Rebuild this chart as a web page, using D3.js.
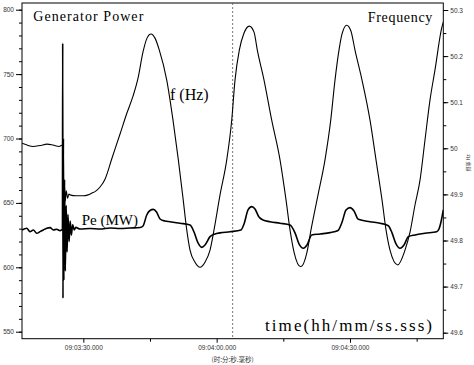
<!DOCTYPE html>
<html>
<head>
<meta charset="utf-8">
<script src="https://cdn.jsdelivr.net/npm/d3@7"></script>
<style>
  body { margin: 0; background: #fff; }
  .tick text { font-family: "Liberation Sans", Arial, sans-serif; font-size: 6.5px; fill: #333; }
  .label { font-family: "Liberation Serif", serif; fill: #000; }
</style>
</head>
<body>
<div class="graphContainer"></div>
<script>
// seconds after 09:03:00
var freqSec = [16.2, 17.33, 18.68, 20.26, 21.83, 23.18, 24.53, 25.3, 25.42, 25.55, 25.72, 25.92, 26.15, 26.45, 26.75,
  27.01, 28.36, 29.93, 31.06, 31.96, 32.63, 33.76, 34.88, 36.46, 38.26, 39.83, 41.18, 42.31, 43.43,
  44.33, 45.23, 46.13, 47.1, 48.77, 50.18, 51.38, 52.43, 53.27, 54.01, 55.13, 56.26, 57.38, 58.51, 59.41, 60.76,
  62.27, 63.39, 64.13, 65.1, 66.16, 67.35, 68.41, 69.15, 70.66, 72.39, 74.26, 75.61, 76.51, 77.41, 78.92, 80.33,
  81.23, 82.81, 84.38, 85.67, 86.63, 87.53, 88.21, 89.27, 90.23, 91.13, 92.71, 94.51, 95.86, 97.21, 98.11, 99.01,
  100.74, 102.38, 103.51, 104.63, 105.76, 106.88, 108.01, 109.13, 110.64, 111.0];
var freqHz = [50.011, 50.007, 50.004, 50.006, 50.009, 50.007, 50.004, 50.007, 49.95, 49.88, 49.925, 49.885, 49.908, 49.892, 49.901,
  49.899, 49.897, 49.897, 49.899, 49.903, 49.906, 49.916, 49.933, 49.979, 50.031, 50.077, 50.113, 50.152, 50.209,
  50.239, 50.248, 50.239, 50.213, 50.148, 50.061, 49.975, 49.892, 49.823, 49.779, 49.753, 49.742, 49.753, 49.779, 49.823, 49.899,
  49.975, 50.061, 50.148, 50.213, 50.25, 50.265, 50.252, 50.213, 50.148, 50.061, 49.975, 49.888, 49.823, 49.775, 49.743, 49.775,
  49.823, 49.899, 49.975, 50.061, 50.148, 50.213, 50.248, 50.267, 50.254, 50.213, 50.148, 50.061, 49.975, 49.888, 49.823, 49.779,
  49.747, 49.779, 49.818, 49.877, 49.931, 50.018, 50.105, 50.17, 50.261, 50.274];

var peSec = [16.2, 17.26, 18.0, 18.75, 19.52, 20.26, 21.0, 21.77, 22.51, 23.25, 24.0, 24.76, 25.3, 25.36, 25.42, 25.52,
  25.62, 25.78, 25.95, 26.15, 26.35, 26.55, 26.8, 27.05, 27.3, 27.6, 27.95, 28.3, 29.26, 31.51, 33.76, 36.01, 38.26,
  40.51, 42.76, 43.43, 44.27, 45.01, 45.76, 46.47, 47.26, 48.38, 49.51, 51.76, 54.01, 54.91, 55.81, 56.64, 57.38,
  58.51, 59.63, 60.76, 63.01, 65.48, 66.16, 67.06, 67.89, 68.63, 69.53, 70.43, 72.01, 74.26, 76.51, 77.63, 78.53,
  79.5, 80.33, 81.39, 83.26, 85.51, 87.31, 88.21, 89.11, 90.01, 90.91, 91.88, 94.51, 96.76, 98.63, 99.46, 100.36,
  101.26, 102.16, 103.13, 104.63, 106.88, 109.52, 110.03, 110.48, 111.0];
var peMW = [629.0, 630.3, 627.7, 629.0, 626.4, 627.7, 629.0, 630.3, 630.8, 629.0, 629.5, 628.5, 629.5, 774, 576, 700,
  590, 668, 597, 648, 612, 641, 620, 636, 625, 633, 629, 631, 629.7, 630.1, 629.7, 630.5, 630.1,
  630.5, 630.9, 632.1, 640.6, 644.1, 645.0, 642.9, 637.5, 635.9, 635.4, 634.2, 632.8, 627.4, 618.9, 615.5, 617.3,
  623.8, 625.9, 626.7, 627.6, 629.0, 633.6, 644.5, 647.1, 645.3, 639.0, 636.7, 635.4, 634.2, 632.8, 626.7, 618.2,
  614.8, 617.3, 625.1, 625.9, 626.9, 628.6, 635.0, 644.5, 646.3, 643.7, 637.3, 635.4, 634.2, 632.3, 626.7, 618.2,
  614.8, 617.3, 623.8, 625.1, 626.4, 627.6, 629.7, 635.2, 644.5];

var peTicks = [550, 600, 650, 700, 750, 800];
var freqTicks = [49.6, 49.7, 49.8, 49.9, 50, 50.1, 50.2, 50.3];
var timeTickLabels = ["09:03:30.000", "09:04:00.000", "09:04:30.000"];
var timeMinorLabels = ["09:03:45.000", "09:04:15.000", "09:04:45.000"];
var cursorSec = 63.6;

var width = 474;
var height = 365;
var plotLeft = 22, plotRight = 443.3, plotTop = 3, plotBottom = 338.7;

var parseTime = d3.timeParse("%H:%M:%S.%L");
var base = parseTime("09:03:00.000");
var toDate = (s) => new Date(base.getTime() + s * 1000);

var svg = d3
  .select(".graphContainer")
  .append("svg")
  .attr("width", width)
  .attr("height", height);

var xScale = d3.scaleTime().domain([toDate(16.2), toDate(111.0)]).range([plotLeft, plotRight]);
var yPe = d3.scaleLinear().domain([550, 800]).range([331.7, 9.7]);
var yF = d3.scaleLinear().domain([49.6, 50.3]).range([332.7, 10]);

// minor ticks
svg.append("g")
  .attr("transform", "translate(" + plotLeft + ",0)")
  .call(d3.axisLeft(yPe).tickValues(d3.range(550, 801, 10)).tickSize(3).tickFormat(() => ""))
  .call((g) => g.select(".domain").remove());
svg.append("g")
  .attr("transform", "translate(" + plotRight + ",0)")
  .call(d3.axisRight(yF).tickValues(d3.range(49.6, 50.31, 0.05)).tickSize(3).tickFormat(() => ""))
  .call((g) => g.select(".domain").remove());
svg.append("g")
  .attr("transform", "translate(0," + plotBottom + ")")
  .call(d3.axisBottom(xScale).tickValues(timeMinorLabels.map(parseTime)).tickSize(3).tickFormat(() => ""))
  .call((g) => g.select(".domain").remove());

// major axes
svg.append("g")
  .attr("transform", "translate(" + plotLeft + ",0)")
  .call(d3.axisLeft(yPe).tickValues(peTicks).tickSize(6).tickPadding(2))
  .call((g) => g.select(".domain").remove());
svg.append("g")
  .attr("transform", "translate(" + plotRight + ",0)")
  .call(d3.axisRight(yF).tickValues(freqTicks).tickSize(5).tickPadding(2).tickFormat(d3.format("")))
  .call((g) => g.select(".domain").remove());
svg.append("g")
  .attr("transform", "translate(0," + plotBottom + ")")
  .call(d3.axisBottom(xScale).tickValues(timeTickLabels.map(parseTime)).tickSize(4).tickPadding(3)
    .tickFormat(d3.timeFormat("%H:%M:%S.%L")))
  .call((g) => g.select(".domain").remove());

// frame
svg.append("rect")
  .attr("x", plotLeft)
  .attr("y", plotTop)
  .attr("width", plotRight - plotLeft)
  .attr("height", plotBottom - plotTop)
  .style("fill", "none")
  .style("stroke", "#000")
  .style("stroke-width", 1);

svg.append("clipPath").attr("id", "plot")
  .append("rect")
  .attr("x", plotLeft).attr("y", plotTop)
  .attr("width", plotRight - plotLeft).attr("height", plotBottom - plotTop);

// cursor line
svg.append("line")
  .attr("x1", xScale(toDate(cursorSec)))
  .attr("x2", xScale(toDate(cursorSec)))
  .attr("y1", plotTop)
  .attr("y2", plotBottom)
  .style("stroke", "#555")
  .style("stroke-width", 0.8)
  .style("stroke-dasharray", "2,2");

// lines
var freqLine = d3.line()
  .x((d, i) => xScale(toDate(freqSec[i])))
  .y((d) => yF(d))
  .curve(d3.curveMonotoneX);
var peLine = d3.line()
  .x((d, i) => xScale(toDate(peSec[i])))
  .y((d) => yPe(d))
  .curve(d3.curveMonotoneX);

svg.append("path")
  .attr("clip-path", "url(#plot)")
  .attr("d", freqLine(freqHz))
  .style("fill", "none")
  .style("stroke", "#000")
  .style("stroke-width", 1.1);
svg.append("path")
  .attr("clip-path", "url(#plot)")
  .attr("d", peLine(peMW))
  .style("fill", "none")
  .style("stroke", "#000")
  .style("stroke-width", 1.6);

// labels
svg.append("text").attr("class", "label")
  .attr("x", 33.3).attr("y", 21)
  .attr("textLength", 110).attr("lengthAdjust", "spacing")
  .style("font-size", "14px")
  .text("Generator Power");
svg.append("text").attr("class", "label")
  .attr("x", 367.7).attr("y", 21.5)
  .attr("textLength", 64.6).attr("lengthAdjust", "spacing")
  .style("font-size", "14px")
  .text("Frequency");
svg.append("text").attr("class", "label")
  .attr("x", 170).attr("y", 100)
  .style("font-size", "16px")
  .text("f (Hz)");
svg.append("text").attr("class", "label")
  .attr("x", 81.7).attr("y", 225)
  .style("font-size", "15px")
  .text("Pe (MW)");
svg.append("text").attr("class", "label")
  .attr("x", 265).attr("y", 330.5)
  .attr("textLength", 167).attr("lengthAdjust", "spacing")
  .style("font-size", "17px")
  .text("time(hh/mm/ss.sss)");

// axis titles
svg.append("text")
  .attr("x", (plotLeft + plotRight) / 2)
  .attr("y", 362)
  .attr("text-anchor", "middle")
  .style("font-family", "Noto Sans CJK SC")
  .style("font-size", "6.5px")
  .style("fill", "#333")
  .text("(时:分:秒.毫秒)");
svg.append("text")
  .attr("transform", "translate(470,163) rotate(-90)")
  .attr("text-anchor", "middle")
  .style("font-family", "Noto Sans CJK SC")
  .style("font-size", "5px")
  .style("fill", "#333")
  .text("频率 Hz");
</script>
</body>
</html>
